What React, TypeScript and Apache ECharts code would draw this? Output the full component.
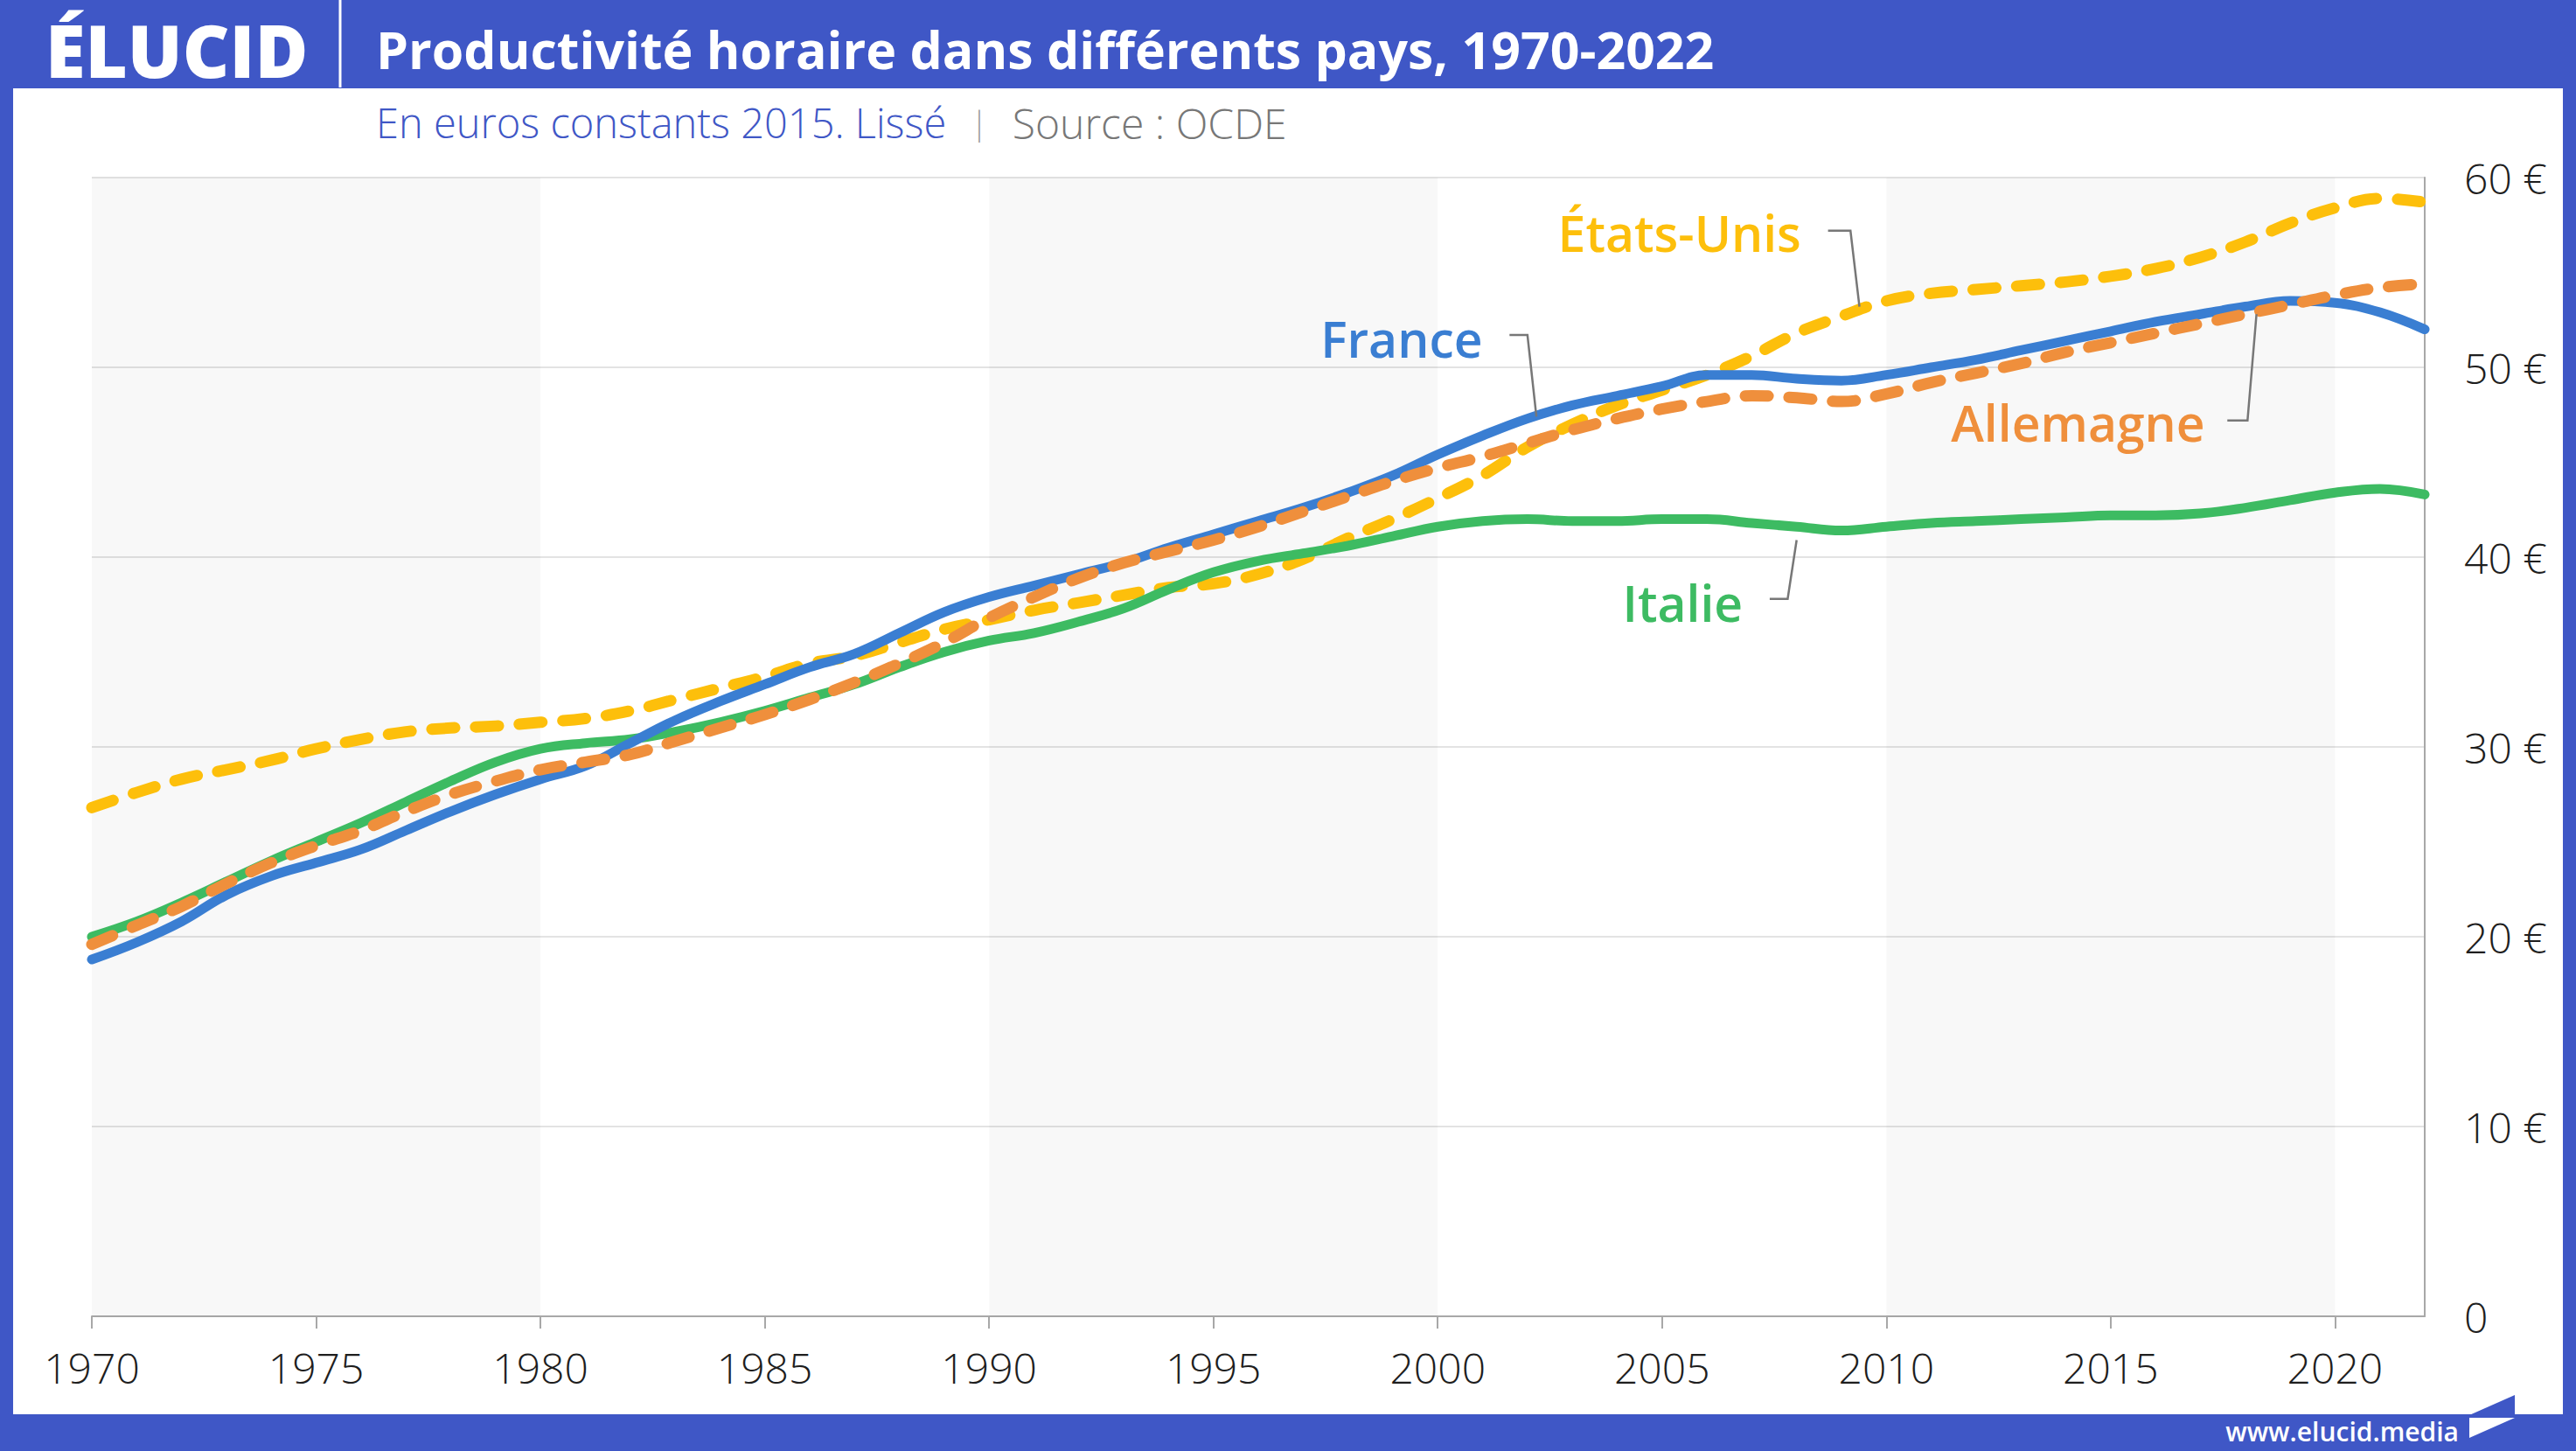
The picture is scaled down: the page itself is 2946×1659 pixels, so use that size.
import React, { useEffect, useRef } from "react";
import * as echarts from "echarts";

const YEARS = [
  1970, 1971, 1972, 1973, 1974, 1975, 1976, 1977, 1978, 1979,
  1980, 1981, 1982, 1983, 1984, 1985, 1986, 1987, 1988, 1989,
  1990, 1991, 1992, 1993, 1994, 1995, 1996, 1997, 1998, 1999,
  2000, 2001, 2002, 2003, 2004, 2005, 2006, 2007, 2008, 2009,
  2010, 2011, 2012, 2013, 2014, 2015, 2016, 2017, 2018, 2019,
  2020, 2021, 2022,
];

const FRANCE = [
  18.8, 19.7, 20.8, 22.2, 23.2, 23.9, 24.6, 25.6, 26.6, 27.5,
  28.3, 29.0, 30.2, 31.4, 32.4, 33.3, 34.2, 34.9, 36.0, 37.1,
  37.9, 38.5, 39.1, 39.7, 40.5, 41.2, 41.9, 42.6, 43.4, 44.3,
  45.4, 46.4, 47.3, 48.0, 48.5, 49.0, 49.6, 49.6, 49.4, 49.3,
  49.6, 50.0, 50.4, 50.9, 51.4, 51.9, 52.4, 52.8, 53.2, 53.5,
  53.4, 52.9, 52.0,
];

const ALLEMAGNE = [
  19.6, 20.6, 21.6, 22.8, 23.9, 24.8, 25.6, 26.6, 27.5, 28.2,
  28.8, 29.2, 29.6, 30.3, 31.0, 31.7, 32.5, 33.4, 34.4, 35.5,
  36.8, 37.9, 38.9, 39.7, 40.3, 40.9, 41.6, 42.4, 43.2, 44.0,
  44.7, 45.3, 46.0, 46.7, 47.3, 47.8, 48.2, 48.5, 48.4, 48.2,
  48.6, 49.2, 49.7, 50.2, 50.8, 51.3, 51.8, 52.3, 52.8, 53.3,
  53.8, 54.2, 54.4,
];

const ETATS_UNIS = [
  26.8, 27.6, 28.3, 28.8, 29.3, 29.9, 30.4, 30.8, 31.0, 31.1,
  31.3, 31.5, 31.9, 32.5, 33.1, 33.7, 34.4, 34.8, 35.5, 36.2,
  36.7, 37.2, 37.6, 38.0, 38.4, 38.6, 39.1, 39.9, 41.0, 42.0,
  43.1, 44.3, 45.8, 47.0, 48.0, 48.8, 49.6, 50.6, 51.8, 52.7,
  53.5, 53.9, 54.1, 54.3, 54.5, 54.8, 55.2, 55.8, 56.6, 57.6,
  58.4, 58.9, 58.7,
];

const ITALIE = [
  20.0, 20.8, 21.8, 22.9, 24.0, 25.0, 26.0, 27.1, 28.2, 29.2,
  29.9, 30.2, 30.4, 30.8, 31.3, 31.9, 32.6, 33.3, 34.2, 35.0,
  35.6, 36.0, 36.6, 37.3, 38.3, 39.2, 39.8, 40.2, 40.6, 41.1,
  41.6, 41.9, 42.0, 41.9, 41.9, 42.0, 42.0, 41.8, 41.6, 41.4,
  41.6, 41.8, 41.9, 42.0, 42.1, 42.2, 42.2, 42.3, 42.6, 43.0,
  43.4, 43.6, 43.3,
];

const TICK_YEARS = [1970, 1975, 1980, 1985, 1990, 1995, 2000, 2005, 2010, 2015, 2020];
const SHADED_DECADES = [
  [1970, 1980],
  [1990, 2000],
  [2010, 2020],
];

const TITLE = "Productivité horaire dans différents pays, 1970-2022";
const SUBTITLE = "En euros constants 2015. Lissé";
const SOURCE = "Source : OCDE";
const LOGO = "ÉLUCID";
const SITE = "www.elucid.media";

const W = 2946;
const H = 1659;
const BLUE = "#3f57c6";
const FONT = "'Open Sans', 'Noto Sans', sans-serif";

const C_FR = "#3a7ed2";
const C_DE = "#ef8f3c";
const C_US = "#fdbf0b";
const C_IT = "#3dbb62";

// annotation anchors in data coordinates: label text end, leader points
const ANNOTATIONS = [
  { text: "France", color: C_FR, at: [2001.0, 51.5], leader: [[2001.6, 51.7], [2002.0, 51.7], [2002.2, 47.4]] },
  { text: "États-Unis", color: C_US, at: [2008.1, 57.1], leader: [[2008.7, 57.2], [2009.2, 57.2], [2009.4, 53.2]] },
  { text: "Allemagne", color: C_DE, at: [2017.1, 47.1], leader: [[2017.6, 47.2], [2018.05, 47.2], [2018.25, 52.8]] },
  { text: "Italie", color: C_IT, at: [2006.8, 37.6], leader: [[2007.4, 37.8], [2007.8, 37.8], [2008.0, 40.9]] },
];

function pairs(vals: number[]) {
  return YEARS.map((y, i) => [y, vals[i]]);
}

export default function App() {
  const ref = useRef<HTMLDivElement>(null);

  useEffect(() => {
    document.body.style.margin = "0";
    if (!ref.current) return;
    const chart = echarts.init(ref.current, undefined, { renderer: "svg" });

    const lineBase = (name: string, color: string, vals: number[], dashed: boolean) => ({
      name,
      type: "line",
      data: pairs(vals),
      smooth: 0.4,
      showSymbol: false,
      symbol: "none",
      z: 3,
      lineStyle: dashed
        ? { color, width: 13, type: [26, 24], cap: "round", join: "round" }
        : { color, width: 11, cap: "round", join: "round" },
    });

    chart.setOption({
      animation: false,
      backgroundColor: "#ffffff",
      textStyle: { fontFamily: FONT },
      grid: { left: 105, right: 173, top: 203, bottom: 154, containLabel: false },
      xAxis: {
        type: "value",
        min: 1970,
        max: 2022,
        interval: 5,
        axisLine: { show: true, lineStyle: { color: "#a8a8a8", width: 2 } },
        axisTick: { show: true, length: 14, lineStyle: { color: "#a8a8a8", width: 2 }, customValues: TICK_YEARS },
        axisLabel: {
          customValues: TICK_YEARS,
          fontSize: 48,
          fontWeight: 300,
          color: "#1e1e1e",
          margin: 34,
          fontFamily: FONT,
          formatter: (v: number) => String(v),
        },
        splitLine: { show: false },
      },
      yAxis: {
        type: "value",
        position: "right",
        min: 0,
        max: 60,
        interval: 10,
        axisLine: { show: true, lineStyle: { color: "#a8a8a8", width: 2 } },
        axisTick: { show: false },
        axisLabel: {
          fontSize: 48,
          fontWeight: 300,
          color: "#1e1e1e",
          margin: 45,
          align: "left",
          fontFamily: FONT,
          formatter: (v: number) => (v === 0 ? "0" : v + " €"),
        },
        splitLine: { show: true, lineStyle: { color: "#e3e3e3", width: 2 } },
      },
      series: [
        {
          type: "line",
          data: [],
          z: 1,
          markArea: {
            silent: true,
            itemStyle: { color: "rgba(0,0,0,0.028)" },
            data: SHADED_DECADES.map(([a, b]) => [
              { xAxis: a, yAxis: 0 },
              { xAxis: b, yAxis: 60 },
            ]),
          },
        },
        lineBase("États-Unis", C_US, ETATS_UNIS, true),
        lineBase("Italie", C_IT, ITALIE, false),
        lineBase("France", C_FR, FRANCE, false),
        lineBase("Allemagne", C_DE, ALLEMAGNE, true),
      ],
    });

    const px = (p: number[]) => chart.convertToPixel({ gridIndex: 0 }, p) as number[];

    const annotationEls: any[] = [];
    ANNOTATIONS.forEach((a, i) => {
      const t = px(a.at);
      annotationEls.push({
        type: "text",
        id: "lab" + i,
        x: t[0],
        y: t[1],
        z: 50,
        style: {
          text: a.text,
          fill: a.color,
          fontFamily: FONT,
          fontWeight: 600,
          fontSize: 57,
          textAlign: "right",
          textVerticalAlign: "middle",
        },
      });
      annotationEls.push({
        type: "polyline",
        id: "lead" + i,
        z: 50,
        shape: { points: a.leader.map((p) => px(p)) },
        style: { stroke: "#777777", lineWidth: 2.5, fill: null },
      });
    });

    const frameEls: any[] = [
      { type: "rect", id: "top", z: 40, shape: { x: 0, y: 0, width: W, height: 101 }, style: { fill: BLUE } },
      { type: "rect", id: "left", z: 40, shape: { x: 0, y: 0, width: 15, height: H }, style: { fill: BLUE } },
      { type: "rect", id: "right", z: 40, shape: { x: 2931, y: 0, width: 15, height: H }, style: { fill: BLUE } },
      { type: "rect", id: "bottom", z: 40, shape: { x: 0, y: 1617, width: W, height: 42 }, style: { fill: BLUE } },
      {
        type: "line",
        id: "sep",
        z: 41,
        shape: { x1: 389, y1: 0, x2: 389, y2: 100 },
        style: { stroke: "#ffffff", lineWidth: 3 },
      },
      {
        type: "text",
        id: "logo",
        z: 41,
        x: 52,
        y: 56,
        style: {
          text: LOGO,
          fill: "#ffffff",
          fontFamily: FONT,
          fontWeight: 800,
          fontSize: 83,
          textAlign: "left",
          textVerticalAlign: "middle",
        },
      },
      {
        type: "text",
        id: "title",
        z: 41,
        x: 430,
        y: 56,
        style: {
          text: TITLE,
          fill: "#ffffff",
          fontFamily: FONT,
          fontWeight: 700,
          fontSize: 59,
          textAlign: "left",
          textVerticalAlign: "middle",
        },
      },
      {
        type: "text",
        id: "subtitle",
        z: 41,
        x: 430,
        y: 140,
        style: {
          text: "{a|" + SUBTITLE + "}{b|   |   }{c|" + SOURCE + "}",
          fontFamily: FONT,
          textAlign: "left",
          textVerticalAlign: "middle",
          rich: {
            a: { fill: "#3f57c6", fontSize: 47, fontFamily: FONT, fontWeight: 300 },
            b: { fill: "#9a9a9a", fontSize: 36, fontFamily: FONT, fontWeight: 300 },
            c: { fill: "#777777", fontSize: 48, fontFamily: FONT, fontWeight: 300 },
          },
        },
      },
      {
        type: "text",
        id: "site",
        z: 41,
        x: 2812,
        y: 1636,
        style: {
          text: SITE,
          fill: "#ffffff",
          fontFamily: FONT,
          fontWeight: 600,
          fontSize: 30,
          textAlign: "right",
          textVerticalAlign: "middle",
        },
      },
      {
        type: "polygon",
        id: "mark1",
        z: 42,
        shape: { points: [[2824, 1618], [2876, 1595], [2876, 1618]] },
        style: { fill: BLUE },
      },
      {
        type: "polygon",
        id: "mark2",
        z: 42,
        shape: { points: [[2824, 1621], [2876, 1621], [2824, 1644]] },
        style: { fill: "#ffffff" },
      },
    ];

    chart.setOption({ graphic: { elements: [...frameEls, ...annotationEls] } });

    return () => {
      chart.dispose();
    };
  }, []);

  return <div ref={ref} style={{ width: W, height: H }} />;
}
